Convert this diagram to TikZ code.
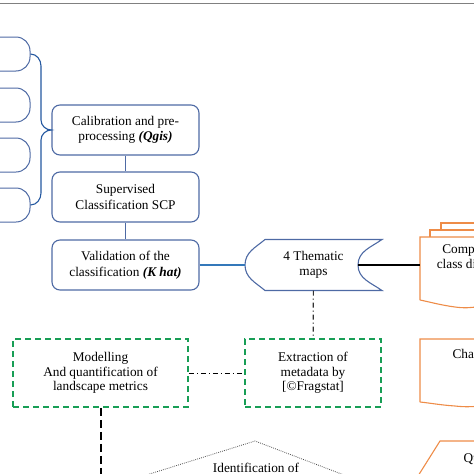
\documentclass[tikz,border=0pt]{standalone}
\usepackage{fontspec}
\setmainfont{Liberation Serif}
\usetikzlibrary{arrows.meta}

\definecolor{boxblue}{RGB}{78,106,164}
\definecolor{braceblue}{RGB}{36,88,160}
\definecolor{linkblue}{RGB}{52,120,186}
\definecolor{docorange}{RGB}{238,140,72}
\definecolor{metagreen}{RGB}{24,158,86}

\begin{document}
\begin{tikzpicture}[x=1pt, y=-1pt,
    stepbox/.style={draw=boxblue, line width=1.1pt, rounded corners=8pt,
      minimum width=147pt, minimum height=50pt, align=center,
      font=\fontsize{13.3}{15.5}\selectfont},
    sidebox/.style={draw=boxblue, line width=1pt, rounded corners=14pt,
      minimum width=90pt, minimum height=34pt},
    metabox/.style={draw=metagreen, line width=1.8pt, dash pattern=on 6pt off 4pt,
      minimum height=68pt, align=center, font=\fontsize{13.3}{14.5}\selectfont},
    orangedoc/.style={draw=docorange, line width=1.1pt, fill=white},
    plaintext/.style={align=center, font=\fontsize{13.3}{15}\selectfont}]
          \useasboundingbox (0,0) rectangle (474,474);
          \clip (0,0) rectangle (474,474);

          \draw[gray, line width=1pt] (0,3) -- (474,3);

          % image sources on the left
          \node[sidebox] (src1) at (-15,54) {};
          \node[sidebox] (src2) at (-15,105) {};
          \node[sidebox] (src3) at (-15,155) {};
          \node[sidebox] (src4) at (-15,205) {};

          % processing chain
          \node[stepbox] (cal) at (125.5,130) {Calibration and pre-\\processing \textbf{\textit{(Qgis)}}};
          \node[stepbox] (sup) at (125.5,197) {Supervised\\Classification SCP};
          \node[stepbox] (val) at (125.5,265) {Validation of the\\classification \textbf{\textit{(K hat)}}};

          \draw[braceblue, line width=1.1pt] (src1.east) to[out=0, in=90] (41,66) -- (41,120)
                to[out=-90, in=180] (cal.west) to[out=180, in=90] (41,140) -- (41,193)
                to[out=-90, in=0] (src4.east);

          \draw[boxblue, line width=1pt] (cal) -- (sup);
          \draw[boxblue, line width=1pt] (sup) -- (val);

          % stored data
          \node[plaintext, minimum width=137pt, minimum height=51pt] (maps) at (313.5,265) {4 Thematic\\maps};
          \draw[boxblue, line width=1.1pt] (265,239.5) -- (382,239.5) to[out=215, in=90] (358,265)
                to[out=-90, in=145] (382,290.5) -- (265,290.5) to[out=140, in=-90] (245,265)
                to[out=90, in=-140] cycle;
          \coordinate (mapsout) at (358,265);

          \draw[linkblue, line width=1.3pt] (val) -- (maps);

          % orange documents
          \draw[orangedoc] (441,223) rectangle (540,290);
          \draw[orangedoc] (430,230) rectangle (540,297);
          \draw[orangedoc] (420,300) -- (420,237) -- (540,237) -- (540,298)
                .. controls (505,290) and (490,312) .. (455,307)
                .. controls (440,305) and (430,302) .. (420,300);
          \node[plaintext] (comp) at (482,256) {Comparison of\\class distribution};
          \coordinate (compin) at (420,265);
          \draw[black, line width=1.3pt] (mapsout) -- (compin);

          \draw[orangedoc] (420,402) -- (420,339) -- (540,339) -- (540,402)
                .. controls (505,396) and (490,410) .. (455,406)
                .. controls (440,405) and (430,403) .. (420,402);
          \node[plaintext, anchor=west] (chg) at (449,355) {Change analysis};

          \draw[docorange, line width=1.1pt] (540,441) -- (440,441) -- (418,476);
          \node[plaintext, anchor=west] (quant) at (460,459) {Quantitative analysis};

          % metrics
          \node[metabox, minimum width=175pt] (mod) at (100.5,373) {Modelling\\And quantification of\\landscape metrics};
          \node[metabox, minimum width=136pt] (ext) at (313,373) {Extraction of\\metadata by\\{[}\textcopyright Fragstat{]}};

          \draw[black!80, line width=1.2pt, dash pattern=on 5pt off 3pt on 1pt off 3pt] (maps) -- (ext);
          \draw[black, line width=1pt, dash pattern=on 5pt off 3pt on 1pt off 3pt] (mod) -- (ext);

          \coordinate (modend) at (100.5,480);
          \draw[black, line width=2pt, dash pattern=on 8pt off 4pt] (mod) -- (modend);

          % identification
          \coordinate (hexleft) at (140,477);
          \coordinate (hextop) at (255,441);
          \coordinate (hexright) at (365,483);
          \draw[black!70, line width=0.8pt, dash pattern=on 0.8pt off 1.2pt] (hexleft) -- (hextop) -- (hexright);
          \node[plaintext] (ident) at (256,468) {Identification of};
        \end{tikzpicture}
\end{document}
